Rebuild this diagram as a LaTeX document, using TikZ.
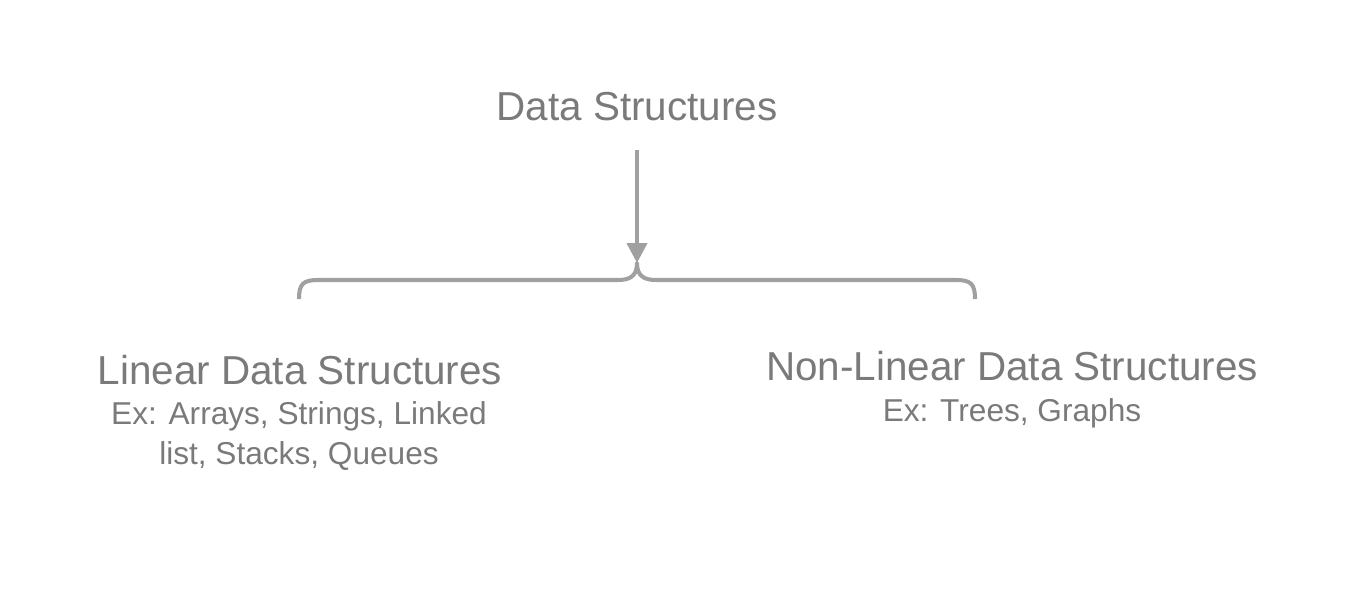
\documentclass[tikz,border=0pt]{standalone}
\usepackage{fontspec}
\setmainfont{Liberation Sans}
\usetikzlibrary{arrows.meta}
\definecolor{txtgray}{HTML}{7A7A7A}
\definecolor{linegray}{HTML}{A0A0A0}
\tikzset{
  head/.style={text=txtgray, font=\fontsize{23}{27}\selectfont, inner sep=0pt},
  sub/.style={text=txtgray, font=\fontsize{18}{23}\selectfont, align=center, inner sep=0pt},
  link/.style={draw=linegray, line width=2.3pt}
}
\begin{document}
\begin{tikzpicture}[x=0.02cm, y=-0.02cm]
        \useasboundingbox (0,0) rectangle (1350,600);

        \node[head] (ds) at (637,107) {Data Structures};
        \coordinate (tip) at (637,263);

        % Brace
        \draw[link, line join=round]
          (299,299) .. controls (299,284) and (303,280) .. (318,280)
          -- (618,280) .. controls (630,280) and (637,276) .. (tip)
          .. controls (637,276) and (644,280) .. (656,280)
          -- (956,280) .. controls (971,280) and (975,284) .. (975,299);

        \draw[link, -{Triangle[width=20pt*0.567, length=20pt*0.567]}] (ds.south |- 0,150) -- (tip);

        % Branches
        \node[head] (lin) at (300,370) {Linear Data Structures};
        \node[sub, anchor=north] (linex) at (299,401) {Ex: Arrays, Strings, Linked\\list, Stacks, Queues};
        \node[head] (nonlin) at (1012,366) {Non-Linear Data Structures};
        \node[sub, anchor=north] (nonlinex) at (1012,398) {Ex: Trees, Graphs};
\end{tikzpicture}
\end{document}
